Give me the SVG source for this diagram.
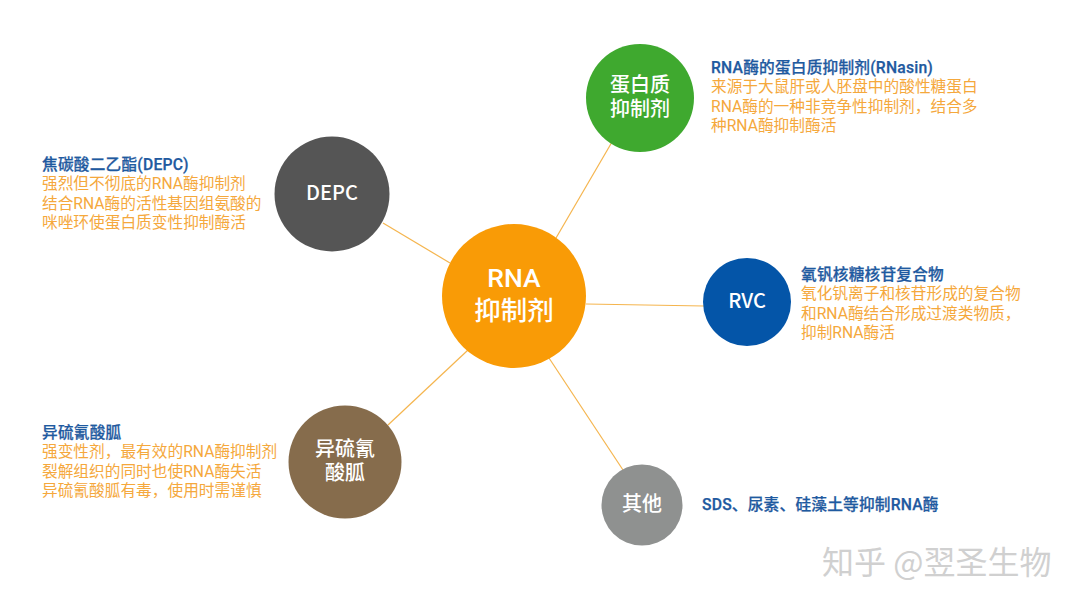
<svg xmlns="http://www.w3.org/2000/svg" width="1080" height="608" viewBox="0 0 1080 608">
<style>
text{font-family:"Noto Sans CJK SC","Noto Sans",sans-serif}
.l{font-family:Roboto,"Noto Sans CJK SC",sans-serif}
.t{font-size:15.7px;font-weight:500;letter-spacing:.2px;fill:#1f5aa0;stroke:#1f5aa0;stroke-width:.25}
.b{font-size:15.7px;fill:#f5a83c;font-weight:400}
.n{font-size:20px;font-weight:500;fill:#fff;text-anchor:middle}
.c{stroke:#f5b54e;stroke-width:1.2;fill:none}
</style>
<rect width="1080" height="608" fill="#fff"/>
<g id="connectors">
<line class="c" x1="556" y1="238" x2="612" y2="142"/>
<line class="c" x1="586" y1="304" x2="704" y2="306"/>
<line class="c" x1="549" y1="358" x2="623" y2="470"/>
<line class="c" x1="468" y1="350" x2="388" y2="425"/>
<line class="c" x1="450" y1="263" x2="383" y2="223"/>
</g>
<g id="center"><circle cx="514" cy="296" r="72" fill="#f99b06"/>
<text class="l n" style="font-size:26.500px"><tspan x="514" y="287">RNA</tspan><tspan x="514" y="320">抑制剂</tspan></text></g>
<g id="protein"><circle cx="640" cy="98" r="54" fill="#3fa92f"/>
<text class="l n"><tspan x="640" y="92">蛋白质</tspan><tspan x="640" y="116">抑制剂</tspan></text></g>
<g id="depc"><circle cx="332" cy="194" r="57.500" fill="#555555"/>
<text class="n" x="332" y="200">DEPC</text></g>
<g id="rvc"><circle cx="747" cy="302" r="44" fill="#0455a8"/>
<text class="n" x="747" y="308">RVC</text></g>
<g id="gitc"><circle cx="345" cy="462" r="56.500" fill="#866c4c"/>
<text class="l n"><tspan x="345" y="456">异硫氰</tspan><tspan x="345" y="480">酸胍</tspan></text></g>
<g id="other"><circle cx="642" cy="505" r="40.500" fill="#8f9190"/>
<text class="n" x="642" y="511">其他</text></g>
<g id="label-protein">
<text class="l t" x="711" y="73">RNA酶的蛋白质抑制剂(RNasin)</text>
<text class="l b" x="711" y="92">来源于大鼠肝或人胚盘中的酸性糖蛋白</text>
<text class="l b" x="711" y="111.500">RNA酶的一种非竞争性抑制剂，结合多</text>
<text class="l b" x="711" y="131">种RNA酶抑制酶活</text>
</g>
<g id="label-depc">
<text class="l t" x="42" y="170">焦碳酸二乙酯(DEPC)</text>
<text class="l b" x="42" y="189">强烈但不彻底的RNA酶抑制剂</text>
<text class="l b" x="42" y="208.500">结合RNA酶的活性基因组氨酸的</text>
<text class="l b" x="42" y="228">咪唑环使蛋白质变性抑制酶活</text>
</g>
<g id="label-rvc">
<text class="l t" x="801" y="280">氧钒核糖核苷复合物</text>
<text class="l b" x="801" y="299">氧化钒离子和核苷形成的复合物</text>
<text class="l b" x="801" y="318.500">和RNA酶结合形成过渡类物质，</text>
<text class="l b" x="801" y="338">抑制RNA酶活</text>
</g>
<g id="label-gitc">
<text class="l t" x="42" y="438">异硫氰酸胍</text>
<text class="l b" x="42" y="457">强变性剂，最有效的RNA酶抑制剂</text>
<text class="l b" x="42" y="476.500">裂解组织的同时也使RNA酶失活</text>
<text class="l b" x="42" y="496">异硫氰酸胍有毒，使用时需谨慎</text>
</g>
<g id="label-other"><text class="l t" x="702" y="510">SDS、尿素、硅藻土等抑制RNA酶</text></g>
<text x="822" y="574" font-size="32" fill="#d0d0d0">知乎 @翌圣生物</text>
</svg>
